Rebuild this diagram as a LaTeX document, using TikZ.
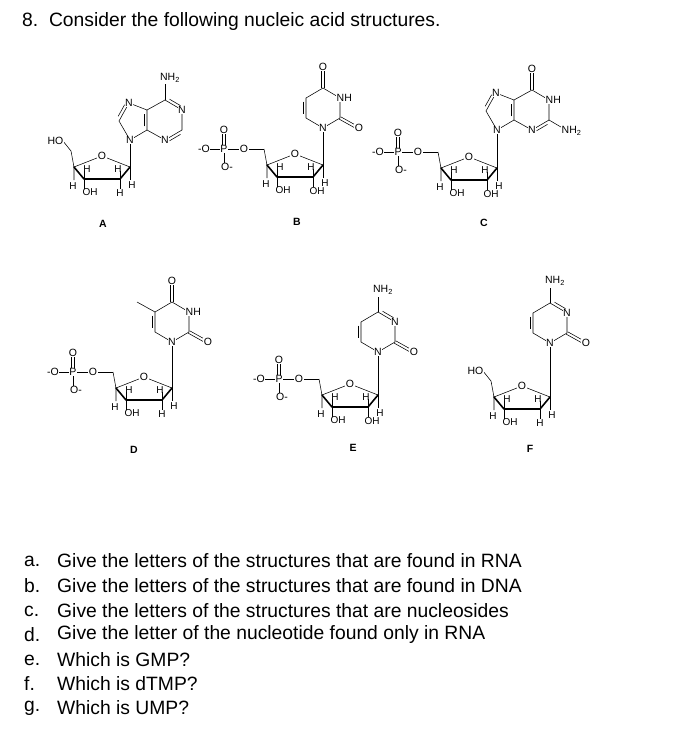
\documentclass[tikz,border=0pt]{standalone}
\usepackage{fontspec}
\setmainfont{Liberation Sans}
\usetikzlibrary{calc}
\tikzset{
 atom/.style={fill=white,inner sep=0.5pt,font=\fontsize{10.5}{11}\selectfont},
 hl/.style={inner sep=0pt,font=\fontsize{10}{11}\selectfont},
 lbl/.style={font=\fontsize{10.5}{12}\selectfont\bfseries},
 q/.style={anchor=west,font=\fontsize{19.3}{22}\selectfont,inner sep=0pt},
 bond/.style={line width=0.55pt}
}
\newcommand\inb[2]{%
 \path (#1) -- (#2) coordinate[pos=.18](p1) coordinate[pos=.82](p2);
 \draw[bond] ($(p1)!3pt!90:(#2)$) -- ($(p2)!3pt!-90:(p1)$);}
\newcommand\inbr[2]{%
 \path (#1) -- (#2) coordinate[pos=.18](p1) coordinate[pos=.82](p2);
 \draw[bond] ($(p1)!3pt!-90:(#2)$) -- ($(p2)!3pt!90:(p1)$);}
\newcommand\dbo[2]{%
 \draw[bond] ($(#1)!1.4pt!90:(#2)$) -- ($(#2)!1.4pt!-90:(#1)$);
 \draw[bond] ($(#1)!1.4pt!-90:(#2)$) -- ($(#2)!1.4pt!90:(#1)$);}
% sugar, origin C1'
\newcommand\Sugar[1]{%
 \coordinate (s1) at (0,0); \coordinate (s4) at (-56,0); \coordinate (so) at (-28,-11);
 \coordinate (s3) at (-46,12); \coordinate (s2) at (-10,12); \coordinate (s5) at (-59,-16);
 \draw[bond] (s4)--(so)--(s1);
 \draw[line width=1.6pt,line cap=round] (s4)--(s3);
 \draw[line width=2.6pt] (s3)--(s2);
 \draw[line width=1.6pt,line cap=round] (s2)--(s1);
 \draw[bond] (s5)--(s4) -- ++(0,13);
 \draw[bond] (s3)++(0,-8)--++(0,18);
 \draw[bond] (s2)++(0,-8)--++(0,18);
 \draw[bond] (s1)--++(0,13);
 \node[atom] at (so) {O};
 \node[hl] at (-57,19) {H};
 \node[hl] at (-43,2) {H};
 \node[hl] at (-12,2) {H};
 \node[hl] at (2,18) {H};
 \node[hl] at (-40,25) {OH};
 \ifx#1R\node[hl] at (-6,26) {OH};\else\node[hl] at (-10,26) {H};\fi}
\newcommand\Phos{%
 \coordinate (pc) at (-99,-16);
 \draw[bond] (pc)++(-14,0)--++(54,0);
 \draw[bond] (pc)--++(0,17);
 \dbo{pc}{$(pc)+(0,-19)$}
 \node[atom] at (pc) {P};
 \node[atom] at ($(pc)+(-20,0)$) {-O};
 \node[atom] at ($(pc)+(20,0)$) {O};
 \node[atom] at ($(pc)+(0,-19)$) {O};
 \node[atom] at ($(pc)+(3,18)$) {O-};}
\newcommand\HOend{%
 \draw[bond] (s5)--(-67,-26);
 \node[atom,anchor=east] at (-66,-26) {HO};}
% purine, origin N9
\newcommand\Purine[1]{%
 \coordinate (n9) at (0,0); \coordinate (c8) at (-11,-19); \coordinate (n7) at (-1,-37);
 \coordinate (c5) at (17,-30); \coordinate (c4) at (17,-10); \coordinate (c6) at (35,-40);
 \coordinate (n1) at (52,-30); \coordinate (c2) at (52,-10); \coordinate (n3) at (35,0);
 \draw[bond] (n9)--(c8)--(n7)--(c5)--(c4)--(n9);
 \draw[bond] (c5)--(c6)--(n1)--(c2)--(n3)--(c4);
 \inb{c8}{n7} \inb{c4}{c5}
 \ifx#1A
  \inb{c6}{n1} \inb{c2}{n3}
  \draw[bond] (c6)--++(0,-16);
  \node[atom] at (40,-62) {NH\textsubscript{2}};
  \node[atom] at (n1) {N};
 \else
  \inb{c2}{n3}
  \dbo{c6}{$(c6)+(0,-20)$}
  \node[atom] at ($(c6)+(0,-21)$) {O};
  \draw[bond] (c2)--++(17,10);
  \node[atom,anchor=west] at (64,1) {NH\textsubscript{2}};
  \node[atom,anchor=west] at (48,-30) {NH};
 \fi
 \node[atom] at (n9) {N}; \node[atom] at (n7) {N}; \node[atom] at (n3) {N};}
% pyrimidine, origin N1
\newcommand\Pyr[1]{%
 \coordinate (n1) at (0,0); \coordinate (c2) at (17,-10); \coordinate (n3) at (17,-30);
 \coordinate (c4) at (0,-40); \coordinate (c5) at (-17,-30); \coordinate (c6) at (-17,-10);
 \draw[bond] (n1)--(c2)--(n3)--(c4)--(c5)--(c6)--cycle;
 \inbr{c5}{c6}
 \dbo{c2}{35,0} \node[atom] at (36,0) {O};
 \ifx#1C
  \inb{c4}{n3}
  \draw[bond] (c4)--++(0,-15);
  \node[atom] at (5,-62) {NH\textsubscript{2}};
  \node[atom] at (n3) {N};
 \else
  \dbo{c4}{0,-60} \node[atom] at (0,-61) {O};
  \node[atom,anchor=west] at (13,-30) {NH};
  \ifx#1T \draw[bond] (c5)--++(-18,-10); \fi
 \fi
 \node[atom] at (n1) {N};}
\begin{document}
\begin{tikzpicture}[x=1pt,y=-1pt]
\useasboundingbox[fill=white] (0,0) rectangle (673,732);
\node[q] at (22,22) {8.\ \ Consider the following nucleic acid structures.};
% A
\begin{scope}[shift={(130,167)}]
 \Sugar{D}\HOend \draw[bond] (0,0)--(0,-27);
 \begin{scope}[shift={(0,-27)}]\Purine{A}\end{scope}
\end{scope}
\node[lbl] at (103,224) {A};
% B
\begin{scope}[shift={(323,165)}]
 \Sugar{R}\Phos \draw[bond] (0,0)--(0,-37);
 \begin{scope}[shift={(0,-37)}]\Pyr{U}\end{scope}
\end{scope}
\node[lbl] at (297,222) {B};
% C
\begin{scope}[shift={(497,168)}]
 \Sugar{R}\Phos \draw[bond] (0,0)--(0,-38);
 \begin{scope}[shift={(0,-38)}]\Purine{G}\end{scope}
\end{scope}
\node[lbl] at (484,223) {C};
% D
\begin{scope}[shift={(172,388)}]
 \Sugar{D}\Phos \draw[bond] (0,0)--(0,-46);
 \begin{scope}[shift={(0,-46)}]\Pyr{T}\end{scope}
\end{scope}
\node[lbl] at (134,450) {D};
% E
\begin{scope}[shift={(378,395)}]
 \Sugar{R}\Phos \draw[bond] (0,0)--(0,-43);
 \begin{scope}[shift={(0,-43)}]\Pyr{C}\end{scope}
\end{scope}
\node[lbl] at (353,448) {E};
% F
\begin{scope}[shift={(550,397)}]
 \Sugar{D}\HOend \draw[bond] (0,0)--(0,-54);
 \begin{scope}[shift={(0,-54)}]\Pyr{C}\end{scope}
\end{scope}
\node[lbl] at (530,449) {F};
% questions
\foreach \l/\t/\y in {a./Give the letters of the structures that are found in RNA/561,
 b./Give the letters of the structures that are found in DNA/586,
 c./Give the letters of the structures that are nucleosides/611,
 d./Give the letter of the nucleotide found only in RNA/635,
 e./Which is GMP?/660, f./Which is dTMP?/684, g./Which is UMP?/708}{
 \node[q] at (24,\y) {\l};
 \node[q] at (57,\y) {\t};}
\end{tikzpicture}
\end{document}
